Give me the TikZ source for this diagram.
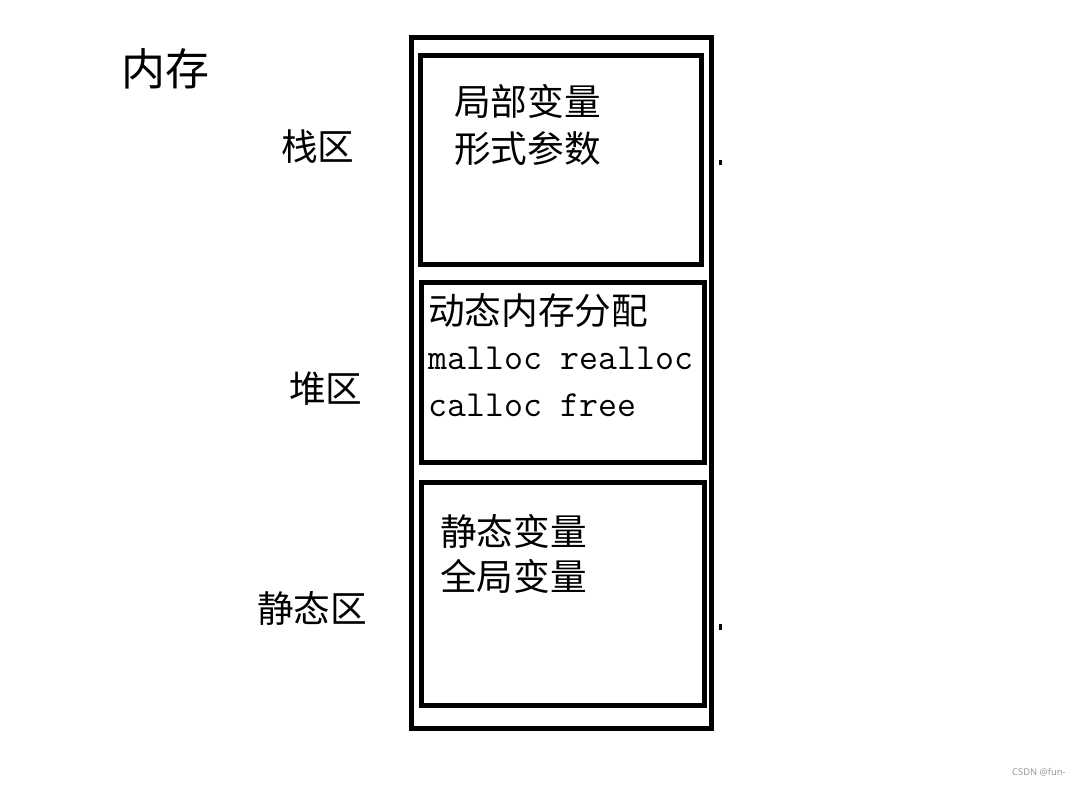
\documentclass[tikz,border=0pt]{standalone}
\usepackage{fontspec}
\newfontfamily\cjk{Noto Sans CJK SC}
\newfontfamily\wmfont{Noto Sans}
\begin{document}
\begin{tikzpicture}[x=0.75pt,y=-0.75pt,
  box/.style={draw=black,line width=3.75pt,fill=none},
  cjkt/.style={anchor=base west,inner sep=0pt,font=\cjk\fontsize{27.5}{30}\selectfont},
  codet/.style={anchor=base west,inner sep=0pt,font=\ttfamily\fontsize{27.6}{30}\selectfont},
  tick/.style={fill=black,draw=none}]
\useasboundingbox[fill=white] (0,0) rectangle (1077,785);
% boxes
\draw[box] (411,37) coordinate (m1) rectangle (711,728) coordinate (m2);
\draw[box] (420.5,55.5) coordinate (s1) rectangle (701.5,264.5) coordinate (s2);
\draw[box] (421.5,282.5) coordinate (h1) rectangle (704.5,462.5) coordinate (h2);
\draw[box] (421.5,482) coordinate (t1) rectangle (704,705) coordinate (t2);
% left labels
\node[cjkt,font=\cjk\fontsize{33}{36}\selectfont] (mem) at (121,85) {内存};
\node[cjkt] (zhan) at (281,160) {栈区};
\node[cjkt] (dui) at (289,402) {堆区};
\node[cjkt] (jing) at (257,622) {静态区};
% box texts
\node[cjkt] (a1) at (454,115) {局部变量};
\node[cjkt] (a2) at (454,162) {形式参数};
\node[cjkt] (b1) at (428,324) {动态内存分配};
\node[codet] (b2) at (428,369) {malloc realloc};
\node[codet] (b3) at (428,416) {calloc free};
\node[cjkt] (c1) at (440,545) {静态变量};
\node[cjkt] (c2) at (440,590) {全局变量};
% small marks
\fill[tick] (719,160) rectangle (721.5,165);
\fill[tick] (718.5,624) rectangle (721.5,630);
% watermark
\node[anchor=east,inner sep=0pt,text=black!40,font=\wmfont\fontsize{7}{8}\selectfont] (wm) at (1066,772) {CSDN @fun-};
\end{tikzpicture}
\end{document}
